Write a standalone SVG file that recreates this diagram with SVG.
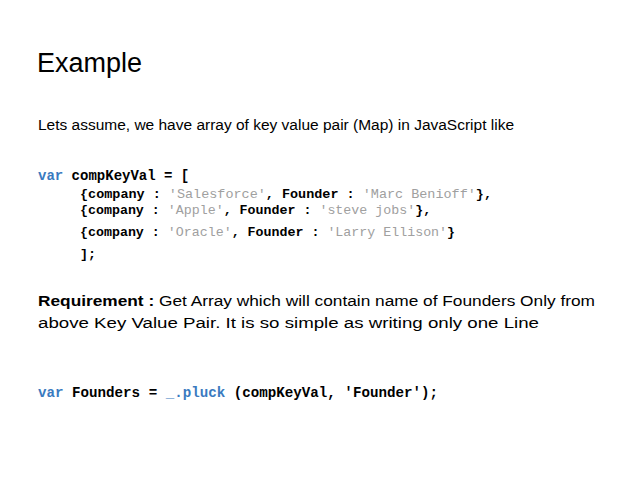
<svg xmlns="http://www.w3.org/2000/svg" width="638" height="479" viewBox="0 0 638 479">
<style>
.t{font-family:"Liberation Sans","Open Sans",sans-serif;fill:#000}
.c{font-family:"Liberation Mono","Courier New",monospace;font-weight:bold;fill:#000}
.k{fill:#3a7abf}.s{fill:#a0a0a0;font-weight:normal}
</style>
<rect width="638" height="479" fill="#fff"/>
<text class="t" x="37" y="72" font-size="27">Example</text>
<text class="t" x="38" y="130" font-size="15.5" textLength="476" lengthAdjust="spacingAndGlyphs">Lets assume, we have array of key value pair (Map) in JavaScript like</text>
<text class="c" x="38" y="180" font-size="14"><tspan class="k">var</tspan> compKeyVal = [</text>
<text class="c" x="80" y="198" font-size="13.3" textLength="412" lengthAdjust="spacingAndGlyphs">{company : <tspan class="s">'Salesforce'</tspan>, Founder : <tspan class="s">'Marc Benioff'</tspan>},</text>
<text class="c" x="80" y="214" font-size="13.3">{company : <tspan class="s">'Apple'</tspan>, Founder : <tspan class="s">'steve jobs'</tspan>},</text>
<text class="c" x="80" y="236" font-size="13.3">{company : <tspan class="s">'Oracle'</tspan>, Founder : <tspan class="s">'Larry Ellison'</tspan>}</text>
<text class="c" x="80" y="258" font-size="13.3">];</text>
<text class="t" x="38" y="306" font-size="15.5" textLength="557" lengthAdjust="spacingAndGlyphs"><tspan font-weight="bold">Requirement :</tspan> Get Array which will contain name of Founders Only from</text>
<text class="t" x="38" y="328" font-size="15.5" textLength="501" lengthAdjust="spacingAndGlyphs">above Key Value Pair. It is so simple as writing only one Line</text>
<text class="c" x="38" y="397" font-size="14" textLength="400" lengthAdjust="spacingAndGlyphs"><tspan class="k">var</tspan> Founders = <tspan class="k">_.pluck</tspan> (compKeyVal, 'Founder');</text>
</svg>
